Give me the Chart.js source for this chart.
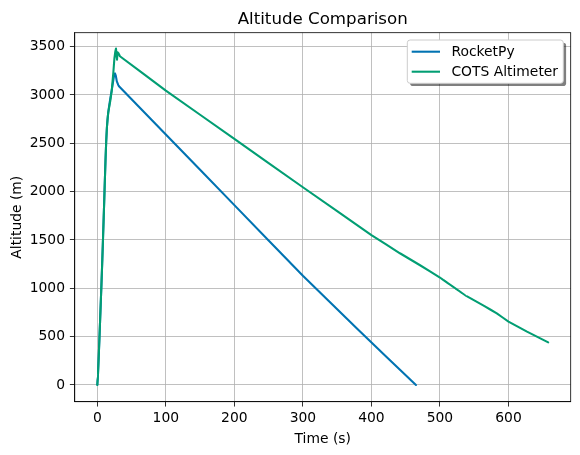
<!DOCTYPE html>
<html>
<head>
<meta charset="utf-8">
<script src="https://cdn.jsdelivr.net/npm/chart.js@4/dist/chart.umd.min.js"></script>
<style>
html,body{margin:0;padding:0;background:#fff;}
canvas{display:block;}
</style>
</head>
<body>
<canvas id="c" width="580" height="455"></canvas>
<script>
// ---- data ----
const rocketpyTime = [0, 1, 2, 3, 4, 5, 6, 7, 8, 9, 10, 11, 12, 13, 14, 15, 16, 18, 20, 22, 24, 25, 25.8, 27, 28.5, 30.7, 32, 100, 200, 300, 380, 465];
const rocketpyAltitude = [0, 110, 280, 460, 650, 840, 1030, 1230, 1440, 1660, 1880, 2110, 2330, 2520, 2660, 2750, 2820, 2920, 3005, 3090, 3180, 3212, 3222, 3200, 3140, 3100, 3086, 2590, 1860, 1130, 575, 0];
const cotsTime = [0, 1, 2, 3, 4, 5, 6, 7, 8, 9, 10, 11, 12, 13, 14, 15, 16, 17.5, 19, 21, 23.4, 25, 26.3, 27.3, 28.2, 28.8, 29.5, 31, 33, 100, 200, 300, 400, 441.6, 471, 500, 539, 565, 583, 600, 627, 658];
const cotsAltitude = [0, 110, 280, 460, 650, 840, 1030, 1230, 1440, 1660, 1880, 2110, 2330, 2520, 2660, 2750, 2820, 2880, 2940, 3040, 3230, 3380, 3450, 3480, 3400, 3365, 3440, 3430, 3400, 3045, 2545, 2045, 1550, 1362, 1238, 1110, 918, 815, 740, 655, 551, 440];
const xTicks = [0, 100, 200, 300, 400, 500, 600];
const yTicks = [0, 500, 1000, 1500, 2000, 2500, 3000, 3500];
const seriesLabels = ['RocketPy', 'COTS Altimeter'];
const seriesColors = ['#0173B2', '#029E73'];
const titleText = 'Altitude Comparison';
const xLabel = 'Time (s)';
const yLabel = 'Altitude (m)';

const FONT = '"DejaVu Sans", sans-serif';
const FS = 13.89;
const LW = 2.08;

const toPts = (xs, ys) => xs.map((x, i) => ({x: x, y: ys[i]}));

const decor = {
  id: 'decor',
  afterDatasetsDraw(chart) {
    const ctx = chart.ctx;
    const a = chart.chartArea;
    ctx.save();
    // spines
    ctx.strokeStyle = '#000';
    ctx.lineWidth = 0.8;
    ctx.strokeRect(a.left, a.top, a.right - a.left, a.bottom - a.top);
    // title
    ctx.fillStyle = '#000';
    ctx.font = '16.67px ' + FONT;
    ctx.textAlign = 'center';
    ctx.textBaseline = 'alphabetic';
    ctx.fillText(titleText, (a.left + a.right) / 2, 24.4);
    // axis labels
    ctx.font = FS + 'px ' + FONT;
    ctx.fillText(xLabel, (a.left + a.right) / 2, 443);
    ctx.save();
    ctx.translate(20.8, (a.top + a.bottom) / 2);
    ctx.rotate(-Math.PI / 2);
    ctx.fillText(yLabel, 0, 0);
    ctx.restore();
    // legend
    const lx = 407.3, ly = 40, lw = 156, lh = 43.3, r = 2.8;
    const rr = (x, y, w, h) => {
      ctx.beginPath();
      ctx.moveTo(x + r, y);
      ctx.lineTo(x + w - r, y);
      ctx.quadraticCurveTo(x + w, y, x + w, y + r);
      ctx.lineTo(x + w, y + h - r);
      ctx.quadraticCurveTo(x + w, y + h, x + w - r, y + h);
      ctx.lineTo(x + r, y + h);
      ctx.quadraticCurveTo(x, y + h, x, y + h - r);
      ctx.lineTo(x, y + r);
      ctx.quadraticCurveTo(x, y, x + r, y);
      ctx.closePath();
    };
    rr(lx + 2.8, ly + 2.8, lw, lh);
    ctx.fillStyle = 'rgba(0,0,0,0.5)';
    ctx.fill();
    rr(lx, ly, lw, lh);
    ctx.fillStyle = '#fff';
    ctx.fill();
    ctx.strokeStyle = '#cccccc';
    ctx.lineWidth = 1;
    ctx.stroke();
    const rows = [51.7, 71.7];
    chart.data.datasets.forEach((ds, i) => {
      ctx.strokeStyle = ds.borderColor;
      ctx.lineWidth = LW;
      ctx.beginPath();
      ctx.moveTo(411.7, rows[i]);
      ctx.lineTo(440, rows[i]);
      ctx.stroke();
      ctx.fillStyle = '#000';
      ctx.textAlign = 'left';
      ctx.textBaseline = 'alphabetic';
      ctx.fillText(ds.label, 451.4, rows[i] + 4.2);
    });
    ctx.restore();
  }
};

// tiny tension avoids Chart.js' pixel-column fast path (which makes steps on near-vertical segments)
const TENSION = 0.000001;

new Chart(document.getElementById('c'), {
  type: 'line',
  data: {
    datasets: [
      {label: seriesLabels[0], order: 1, data: toPts(rocketpyTime, rocketpyAltitude), borderColor: seriesColors[0], backgroundColor: seriesColors[0], borderWidth: LW, pointRadius: 0, tension: TENSION, fill: false, borderJoinStyle: 'round', borderCapStyle: 'round'},
      {label: seriesLabels[1], order: 0, data: toPts(cotsTime, cotsAltitude), borderColor: seriesColors[1], backgroundColor: seriesColors[1], borderWidth: LW, pointRadius: 0, tension: TENSION, fill: false, borderJoinStyle: 'round', borderCapStyle: 'round'}
    ]
  },
  options: {
    responsive: false,
    animation: false,
    devicePixelRatio: 1,
    layout: {padding: {top: 32.7, right: 9.3, bottom: 0, left: 0}},
    plugins: {legend: {display: false}, title: {display: false}, tooltip: {enabled: false}},
    scales: {
      x: {
        type: 'linear', min: -32.9, max: 690.8,
        afterBuildTicks: ax => { ax.ticks = xTicks.map(v => ({value: v})); },
        afterFit: s => { s.height = 455 - 401.7; },
        grid: {color: '#b0b0b0', lineWidth: 0.8, tickColor: '#000', tickLength: 4.86, tickWidth: 0.8},
        border: {display: true, color: '#000', width: 0.8},
        ticks: {color: '#000', font: {family: FONT, size: FS}, padding: 4, maxRotation: 0, autoSkip: false, callback: v => String(v)}
      },
      y: {
        type: 'linear', min: -173.5, max: 3643.5,
        afterBuildTicks: ax => { ax.ticks = yTicks.map(v => ({value: v})); },
        afterFit: s => { s.width = 74.75; },
        grid: {color: '#b0b0b0', lineWidth: 0.8, tickColor: '#000', tickLength: 4.86, tickWidth: 0.8},
        border: {display: true, color: '#000', width: 0.8},
        ticks: {color: '#000', font: {family: FONT, size: FS}, padding: 4.9, autoSkip: false, callback: v => String(v)}
      }
    }
  },
  plugins: [decor]
});
</script>
</body>
</html>
